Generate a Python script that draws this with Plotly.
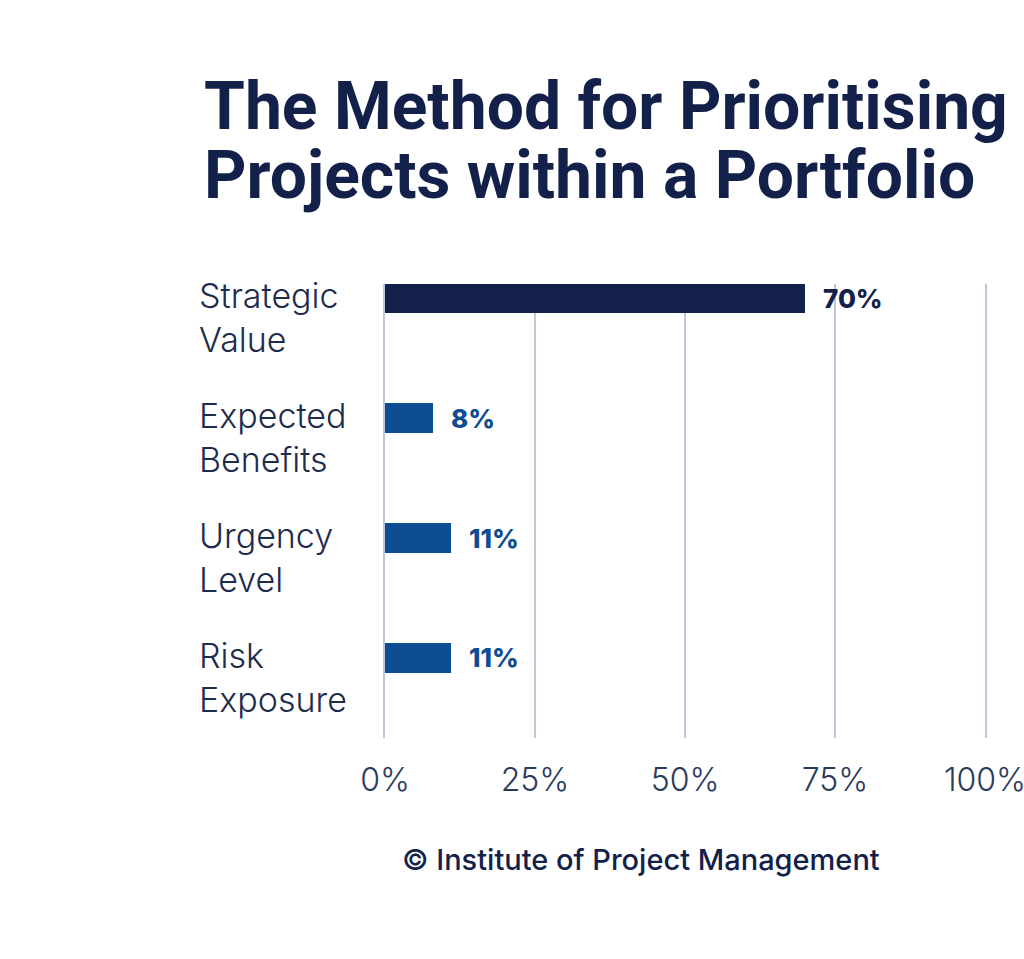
import plotly.graph_objects as go

title_lines = ["The Method for Prioritising", "Projects within a Portfolio"]
categories = ["Strategic Value", "Expected Benefits", "Urgency Level", "Risk Exposure"]
label_lines = ["Strategic<br>Value", "Expected<br>Benefits", "Urgency<br>Level", "Risk<br>Exposure"]
values = [70, 8, 11, 11]
value_labels = ["70%", "8%", "11%", "11%"]
bar_colors = ["#13214a", "#0e4d92", "#0e4d92", "#0e4d92"]
tick_values = [0, 25, 50, 75, 100]
tick_labels = ["0%", "25%", "50%", "75%", "100%"]
credit = "© Institute of Project Management"

TEXT = "#13214a"
W, H = 1024, 959
ML, MR, MT, MB = 385, 39, 284, 221
PW, PH = W - ML - MR, H - MT - MB


def px_x(p):
    return (p - ML) / PW


def px_y(p):
    return (H - MB - p) / PH


fig = go.Figure()
fig.add_trace(go.Bar(
    x=values, y=categories, orientation="h",
    marker=dict(color=bar_colors, line=dict(width=0)),
    width=0.25, hoverinfo="skip",
))

annotations = []
for line, cy in zip(title_lines, [107, 176]):
    annotations.append(dict(
        x=px_x(202), xref="paper", y=px_y(cy), yref="paper", text=line,
        showarrow=False, xanchor="left", yanchor="middle",
        font=dict(family="Roboto", size=66, color=TEXT, weight=700),
    ))
for cat, lab in zip(categories, label_lines):
    annotations.append(dict(
        x=px_x(197), xref="paper", y=cat, yref="y", text=lab, showarrow=False,
        xanchor="left", yanchor="top", yshift=25, align="left",
        font=dict(family="Inter", size=34, color="#1d2b4d", weight=300),
    ))
for cat, v, lab, c in zip(categories, values, value_labels, bar_colors):
    annotations.append(dict(
        x=v, xref="x", y=cat, yref="y", text=lab, showarrow=False,
        xanchor="left", yanchor="middle", xshift=16,
        font=dict(family="Inter", size=26, color=c, weight=800),
    ))
annotations.append(dict(
    x=px_x(641), xref="paper", y=px_y(859), yref="paper", text=credit,
    showarrow=False, xanchor="center", yanchor="middle",
    font=dict(family="Inter", size=29, color=TEXT, weight=500),
))

fig.update_layout(
    width=W, height=H,
    margin=dict(l=ML, r=MR, t=MT, b=MB, autoexpand=False),
    paper_bgcolor="#ffffff", plot_bgcolor="#ffffff",
    showlegend=False,
    xaxis=dict(
        range=[0, 100], tickvals=tick_values, ticktext=tick_labels,
        showgrid=True, gridcolor="#c0c7d8", gridwidth=2, zeroline=False,
        showline=False, ticks="", ticklabelstandoff=20, automargin=False,
        ticklabeloverflow="allow",
        tickfont=dict(family="Inter", size=32, color="#2a3a5c", weight=300),
        fixedrange=True,
    ),
    yaxis=dict(
        type="category", categoryorder="array", categoryarray=categories,
        range=[3.667, -0.117], showticklabels=False, showgrid=False,
        zeroline=False, fixedrange=True, automargin=False,
        showline=True, mirror=True, linecolor="#c0c7d8", linewidth=2,
    ),
    annotations=annotations,
)

fig.write_html("out.html")
